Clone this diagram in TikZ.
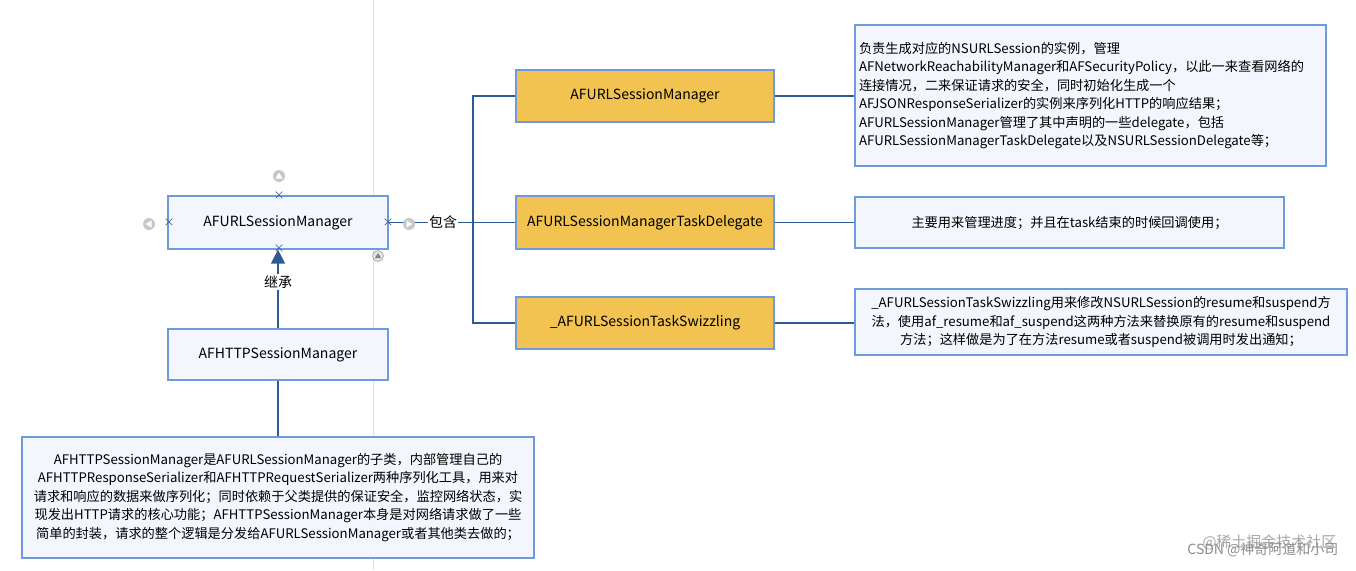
\documentclass[tikz,border=0pt]{standalone}
\usepackage{fontspec}
\setmainfont{Noto Sans CJK SC}
\usetikzlibrary{arrows.meta}
\definecolor{bd}{HTML}{6F9BDD}
\definecolor{bf}{HTML}{F3F6FC}
\definecolor{og}{HTML}{F2C350}
\definecolor{ln}{HTML}{2F5A98}
\definecolor{hd}{HTML}{C8C8C8}
\begin{document}
\begin{tikzpicture}[x=1pt,y=-1pt,
 box/.style={draw=bd,line width=1.2pt,fill=bf,inner sep=0pt,font=\fontsize{14}{16}\selectfont},
 obox/.style={box,fill=og},
 txt/.style={box,font=\fontsize{13.2}{18.5}\selectfont,align=left},
 conn/.style={draw=ln,line width=1.3pt},
 hnd/.style={circle,fill=hd,minimum size=12pt,inner sep=0pt},
 xm/.style={font=\fontsize{11}{11}\selectfont,text=ln,inner sep=0pt}]
\useasboundingbox (0,0) rectangle (1356,570);
\fill[white] (0,0) rectangle (1356,570);
\draw[black!12,line width=0.8pt] (373,0) -- (373,570);
% nodes
\node[box,minimum width=220pt,minimum height=53pt] (m) at (278,222.5) {AFURLSessionManager};
\node[box,minimum width=220pt,minimum height=51pt] (h) at (278,354.5) {AFHTTPSessionManager};
\node[txt,minimum width=512pt,minimum height=121pt,align=center] (hd) at (278,497.5) {AFHTTPSessionManager是AFURLSessionManager的子类，内部管理自己的\\AFHTTPResponseSerializer和AFHTTPRequestSerializer两种序列化工具，用来对\\请求和响应的数据来做序列化；同时依赖于父类提供的保证安全，监控网络状态，实\\现发出HTTP请求的核心功能；AFHTTPSessionManager本身是对网络请求做了一些\\简单的封装，请求的整个逻辑是分发给AFURLSessionManager或者其他类去做的；};
\node[obox,minimum width=258pt,minimum height=52pt] (o1) at (645,96) {AFURLSessionManager};
\node[obox,minimum width=258pt,minimum height=53pt] (o2) at (645,222.5) {AFURLSessionManagerTaskDelegate};
\node[obox,minimum width=258pt,minimum height=52pt] (o3) at (645,323) {\_AFURLSessionTaskSwizzling};
\node[txt,minimum width=471pt,minimum height=141pt,text width=463pt] (d1) at (1090.5,95.5) {负责生成对应的NSURLSession的实例，管理\\AFNetworkReachabilityManager和AFSecurityPolicy，以此一来查看网络的\\连接情况，二来保证请求的安全，同时初始化生成一个\\AFJSONResponseSerializer的实例来序列化HTTP的响应结果；\\AFURLSessionManager管理了其中声明的一些delegate，包括\\AFURLSessionManagerTaskDelegate以及NSURLSessionDelegate等；};
\node[txt,minimum width=429pt,minimum height=51pt,align=center] (d2) at (1069.5,222.5) {主要用来管理进度；并且在task结束的时候回调使用；};
\node[txt,minimum width=492pt,minimum height=66pt,align=center] (d3) at (1101,322) {\_AFURLSessionTaskSwizzling用来修改NSURLSession的resume和suspend方\\法，使用af\_resume和af\_suspend这两种方法来替换原有的resume和suspend\\方法；这样做是为了在方法resume或者suspend被调用时发出通知；};
% connectors
\coordinate (j) at (473,222.5);
\node[font=\fontsize{14}{16}\selectfont,fill=white,inner sep=1pt] (bh) at (443,222.5) {包含};
\draw[conn] (m.east) -- (bh.west);
\draw[conn] (bh.east) -- (j);
\draw[conn] (o1.west) -| (j) |- (o3.west);
\draw[conn] (j) -- (o2.west);
\draw[conn] (o1.east) -- (d1.west|-o1.east);
\draw[conn] (o2.east) -- (d2.west);
\draw[conn] (o3.east) -- (d3.west|-o3.east);
\draw[conn] (h.south) -- (hd.north);
\node[font=\fontsize{14}{16}\selectfont,fill=white,inner sep=1pt] (jc) at (278,282) {继承};
\draw[conn] (h.north) -- (jc.south);
\draw[conn,-{Triangle[length=14pt,width=14pt]}] (jc.north) -- (m.south);
% handles
\node[hnd] (h1) at (279,176) {}; \fill[white] (h1.center)++(-3.5,2.5) -- ++(7,0) -- ++(-3.5,-6) -- cycle;
\node[hnd] (h2) at (149,224) {}; \fill[white] (h2.center)++(2.5,-3.5) -- ++(0,7) -- ++(-6,-3.5) -- cycle;
\node[hnd] (h3) at (409,224) {}; \fill[white] (h3.center)++(-2.5,-3.5) -- ++(0,7) -- ++(6,-3.5) -- cycle;
\node[circle,draw=gray,fill=hd!50,minimum size=11pt,inner sep=0pt] (h4) at (378,256) {}; \fill[gray] (h4.center)++(-3,2) -- ++(6,0) -- ++(-3,-5) -- cycle;
\node[xm] at (279,196) {×}; \node[xm] at (169,222.5) {×}; \node[xm] at (388,222.5) {×}; \node[xm] at (279,249) {×};
% watermark
\node[text=black!35,font=\fontsize{15}{15}\selectfont,anchor=east] (w1) at (1340,542) {@稀土掘金技术社区};
\node[text=black!45,font=\fontsize{14}{14}\selectfont,anchor=east] (w2) at (1342,550) {CSDN @神奇阿道和小司};
\end{tikzpicture}
\end{document}
